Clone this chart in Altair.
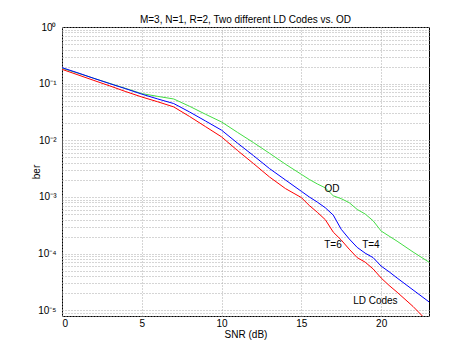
import altair as alt
import pandas as pd

snr = [0, 1, 2, 3, 4, 5, 6, 7, 8, 9, 10, 11, 12, 13, 14, 15,
       15.5, 16, 16.5, 17, 17.5, 18, 18.5, 19, 19.5, 20, 20.5, 21, 22, 23]

ber_od = [0.187, 0.153, 0.124, 0.101, 0.0822, 0.0668, 0.0596, 0.0537, 0.0398, 0.0288,
          0.0211, 0.0138, 0.00912, 0.00592, 0.00380, 0.00251,
          0.00204, 0.00170, 0.00145, 0.00105, 0.000933, 0.000794, 0.000603, 0.000501,
          0.000380, 0.000251, 0.000204, 0.000166, 0.000107, 7.08e-5]

ber_t4 = [0.192, 0.155, 0.124, 0.100, 0.0813, 0.0653, 0.0537, 0.0446, 0.0316, 0.0219,
          0.0151, 0.00891, 0.00537, 0.00318, 0.00200, 0.00126,
          0.00100, 0.000813, 0.000646, 0.000479, 0.000269, 0.000182, 0.000129, 0.000102,
          8.51e-5, 6.03e-5, 4.79e-5, 3.72e-5, 2.29e-5, 1.41e-5]

ber_t6 = [0.179, 0.143, 0.114, 0.0912, 0.0724, 0.0582, 0.0479, 0.0389, 0.0263, 0.0174,
          0.0115, 0.00661, 0.00389, 0.00226, 0.00141, 0.000977,
          0.000708, 0.000537, 0.000398, 0.000240, 0.000174, 0.000120, 8.51e-5, 7.08e-5,
          5.37e-5, 3.72e-5, 2.75e-5, 2.09e-5, 1.17e-5, 6.03e-6]

series_names = ["OD", "T=4", "T=6"]
series_colors = ["#44dd44", "#0000ff", "#ff0000"]

x_ticks = [0, 5, 10, 15, 20]
y_min = 7.94e-6

ann_text = ["OD", "T=6", "T=4", "LD Codes"]
ann_snr = [16.92, 16.98, 19.36, 19.64]
ann_ber = [1.38e-3, 1.41e-4, 1.41e-4, 1.48e-5]

rows = []
for name, vals in zip(series_names, [ber_od, ber_t4, ber_t6]):
    for s, v in zip(snr, vals):
        rows.append({"snr": s, "ber": v, "series": name})
df = pd.DataFrame(rows)

ann = pd.DataFrame({"text": ann_text, "snr": ann_snr, "ber": ann_ber})

y_grid = []
for e in range(-6, 1):
    for m in range(1, 10):
        v = m * 10.0 ** e
        if y_min <= v <= 1.0000001:
            y_grid.append(v)

FONT = "Liberation Sans"
label_expr = ("abs(log(datum.value)/LN10 - round(log(datum.value)/LN10)) < 0.01 ? "
              "['10⁰','10⁻¹','10⁻²','10⁻³','10⁻⁴','10⁻⁵'][-round(log(datum.value)/LN10)] : ''")

x_enc = alt.X("snr:Q",
              scale=alt.Scale(domain=[0, 23], nice=False, zero=False),
              axis=alt.Axis(values=x_ticks, title="SNR (dB)", grid=True, gridDash=[1, 2],
                            gridColor="#aaaaaa", ticks=False, domain=False,
                            labelFont=FONT, labelFontSize=10, labelPadding=2,
                            titleFont=FONT, titleFontSize=10, titleFontWeight="normal",
                            titlePadding=1, labelColor="#000", titleColor="#000"))
y_enc = alt.Y("ber:Q",
              scale=alt.Scale(type="log", domain=[y_min, 1], nice=False),
              axis=alt.Axis(values=y_grid, labelExpr=label_expr, title="ber", grid=True,
                            gridDash=[1, 2], gridColor="#aaaaaa", ticks=False, domain=False,
                            labelOverlap=False, labelFont=FONT, labelFontSize=10,
                            labelPadding=6, titleFont=FONT, titleFontSize=10,
                            titleFontWeight="normal", titleX=-21,
                            labelColor="#000", titleColor="#000"))

lines = alt.Chart(df).mark_line(strokeWidth=1, clip=True).encode(
    x=x_enc, y=y_enc,
    color=alt.Color("series:N", scale=alt.Scale(domain=series_names, range=series_colors),
                    legend=None),
    detail="series:N",
)

labels = alt.Chart(ann).mark_text(font=FONT, fontSize=10, color="#000",
                                  align="center", baseline="middle").encode(
    x="snr:Q", y="ber:Q", text="text:N")

chart = alt.layer(lines, labels).properties(
    width=367, height=289,
    title=alt.TitleParams("M=3, N=1, R=2, Two different LD Codes vs. OD",
                          font=FONT, fontSize=10, fontWeight="normal", offset=-3,
                          color="#000"),
    autosize=alt.AutoSizeParams(type="none"),
    padding={"left": 54, "top": 19, "right": 20, "bottom": 32},
).configure_view(stroke="#000000", strokeWidth=1)

chart.save("out.html", embed_options={"renderer": "svg", "actions": False})
